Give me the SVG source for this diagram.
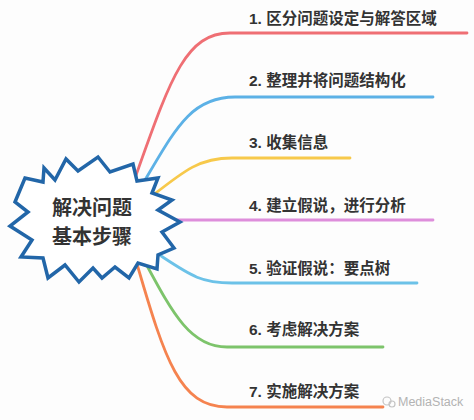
<svg xmlns="http://www.w3.org/2000/svg" width="474" height="420" viewBox="0 0 474 420">
<style>
.br{fill:none;stroke-width:2.8;stroke-linecap:round}
.lbl{font-family:"Liberation Sans","Noto Sans CJK SC",sans-serif;font-weight:bold;font-size:15.5px;fill:#333}
.ttl{font-family:"Noto Sans CJK SC",sans-serif;font-weight:bold;font-size:20px;fill:#333;text-anchor:middle}
</style>
<rect width="474" height="420" fill="#fdfdfd"/>
<g id="connectors">
<path class="br" stroke="#ef6f74" d="M135,178 C170,80 185,33 230,33 L467,33"/>
<path class="br" stroke="#5cb1e6" d="M142,185 C175,130 190,97 235,97 L433,97"/>
<path class="br" stroke="#f7c94b" d="M152,196 C185,170 200,158 232,158 L350,158"/>
<path class="br" stroke="#de8edb" d="M160,220 L433,220"/>
<path class="br" stroke="#6cc2e8" d="M158,254 C190,275 200,283 232,283 L417,283"/>
<path class="br" stroke="#7dc46b" d="M145,262 C172,312 190,347 227,347 L383,347"/>
<path class="br" stroke="#f5834f" d="M137,264 C165,360 180,407 227,407 L383,407"/>
</g>
<g id="center">
<polygon fill="#fff" stroke="#2266a8" stroke-width="3.5" stroke-linejoin="miter" points="15,202 25,178 43,182 44,168 55,180 66,159 78,171 98,157 110,172 133,164 137,181 158,178 152,193 172,200 158,210 180,222 162,232 174,248 158,255 157,269 138,263 129,278 115,267 102,278 93,268 79,282 65,265 48,278 43,258 21,257 32,240 10,226 28,212"/>
<text class="ttl" x="92" y="215">解决问题</text>
<text class="ttl" x="92" y="244">基本步骤</text>
</g>
<g id="n1"><text class="lbl" x="249" y="24">1. 区分问题设定与解答区域</text></g>
<g id="n2"><text class="lbl" x="249" y="86">2. 整理并将问题结构化</text></g>
<g id="n3"><text class="lbl" x="249" y="148">3. 收集信息</text></g>
<g id="n4"><text class="lbl" x="249" y="211">4. 建立假说，进行分析</text></g>
<g id="n5"><text class="lbl" x="249" y="274">5. 验证假说：要点树</text></g>
<g id="n6"><text class="lbl" x="249" y="335">6. 考虑解决方案</text></g>
<g id="n7"><text class="lbl" x="249" y="397">7. 实施解决方案</text></g>
<g id="watermark">
<circle cx="387" cy="401" r="4" fill="none" stroke="#c4c4c4" stroke-width="1.2"/>
<circle cx="392" cy="404" r="3" fill="none" stroke="#c4c4c4" stroke-width="1.2"/>
<text x="398" y="406" font-family="Liberation Sans, sans-serif" font-size="12.5" fill="#b3b3b3">MediaStack</text>
</g>
</svg>
